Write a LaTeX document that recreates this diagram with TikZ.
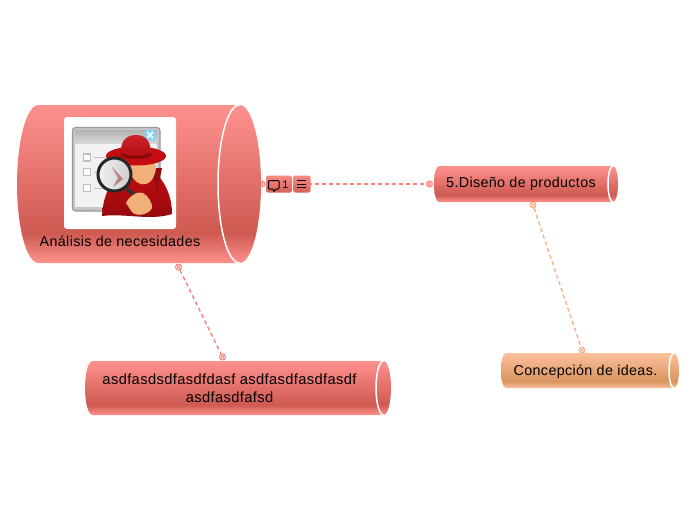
\documentclass[tikz,border=0pt]{standalone}
\usepackage{fontspec}
\setmainfont[LetterSpace=2.5]{Liberation Sans}
\usepackage{tikz}

\definecolor{redtop}{HTML}{FF918D}
\definecolor{reddark}{HTML}{CE5A51}
\definecolor{redline}{HTML}{FF7F7F}
\definecolor{orangetop}{HTML}{FBC09C}
\definecolor{orangedark}{HTML}{D9945F}
\definecolor{orangeline}{HTML}{F8B08A}
\definecolor{hatred}{HTML}{C40C12}
\definecolor{skintan}{HTML}{F0B078}

\pgfdeclareverticalshading{redtube}{100bp}{color(0bp)=(redtop); color(25bp)=(redtop); color(34.5bp)=(reddark); color(75bp)=(redtop); color(100bp)=(redtop)}
\pgfdeclareverticalshading{orangetube}{100bp}{color(0bp)=(orangetop); color(25bp)=(orangetop); color(34.5bp)=(orangedark); color(75bp)=(orangetop); color(100bp)=(orangetop)}

\tikzset{
    tubetext/.style={align=center, inner sep=0pt, text=black, font=\fontsize{14.3}{18}\selectfont},
    badge/.style={draw=none, top color=redtop!85!reddark, bottom color=reddark!85!redtop, rounded corners=2pt, minimum height=17pt, inner sep=0pt},
    endmark/.style={circle, draw=#1, fill=white, line width=1pt, minimum size=6pt, inner sep=0pt,
        path picture={\draw[#1, line width=0.8pt] (path picture bounding box.south west) -- (path picture bounding box.north east)
            (path picture bounding box.north west) -- (path picture bounding box.south east);}},
    link/.style={dash pattern=on 4pt off 3pt, line width=1.4pt, draw=#1}
}

\begin{document}
\begin{tikzpicture}[x=1pt, y=-1pt]
    \useasboundingbox (0,0) rectangle (696,520);

    % Connectors
    \node[endmark=redline] (rootright) at (262,184) {};
    \node[endmark=redline] (designleft) at (429.5,184) {};
    \node[endmark=redline] (rootbottom) at (178.5,267) {};
    \node[endmark=redline] (notetop) at (222.5,357) {};
    \node[endmark=orangeline] (designbottom) at (533,205) {};
    \node[endmark=orangeline] (ideastop) at (582,350) {};
    \draw[link=redline] (rootright) -- (designleft);
    \draw[link=redline] (rootbottom) -- (notetop);
    \draw[link=orangeline] (designbottom) -- (ideastop);

    % Tubes
    \foreach \xa/\ya/\xb/\yb/\rx/\tube in {17/105/261/263/21.5/redtube, 434/166/618/202/5/redtube, 85/361/391/415/7.5/redtube, 501/353/679/388/5/orangetube} {
        \pgfmathsetmacro{\ry}{(\yb-\ya)/2}
        \shade[shading=\tube] (\xa+\rx,\ya) -- (\xb-\rx,\ya) arc[start angle=-90, end angle=90, x radius=\rx, y radius=\ry]
            -- (\xa+\rx,\yb) arc[start angle=90, end angle=270, x radius=\rx, y radius=\ry] -- cycle;
        \draw[white, line width=1.5pt] (\xb-\rx,\ya) arc[start angle=-90, end angle=-270, x radius=\rx, y radius=\ry];
    }

    % Labels
    \node[tubetext] (root) at (120,241) {Análisis de necesidades};
    \node[tubetext] (design) at (521,184) {5.Diseño de productos};
    \node[tubetext, font=\fontsize{14.7}{18}\selectfont] (note) at (229.5,388) {asdfasdsdfasdfdasf asdfasdfasdfasdf\\asdfasdfafsd};
    \node[tubetext] (ideas) at (585.5,371.5) {Concepción de ideas.};

    % Badges
    \node[badge, minimum width=26pt] (comment) at (279,184) {};
    \node[badge, minimum width=17pt] (menu) at (302,184) {};
    \node[font=\fontsize{11}{11}\selectfont, inner sep=0pt] (count) at (285.5,184.5) {1};
    \draw[black, line width=1pt, rounded corners=1pt] (268.5,180.5) -- (279,180.5) -- (279,189) -- (276,189) -- (273.5,192) -- (273.5,189) -- (268.5,189) -- cycle;
    \foreach \y in {180.5,184,187.5} {
        \draw[black, line width=1pt] (297,\y) -- (306,\y);
    }

    % Picture card
    \fill[white, rounded corners=3pt] (64,117) rectangle (176,229);
    \draw[gray!80, fill=gray!45, line width=1.2pt, rounded corners=3pt] (72.5,127.5) rectangle (160,211);
    \shade[top color=gray!60, bottom color=gray!30] (75,130) rectangle (157,144);
    \fill[gray!10] (75,144) rectangle (157,207);
    \foreach \y in {157.5,172,188} {
        \draw[gray!50, line width=1.2pt, fill=white] (83.5,\y-3.5) rectangle (90.5,\y+3.5);
        \draw[gray!50, line width=0.8pt] (94,\y) -- (106,\y);
    }
    \fill[blue!35!cyan!50, rounded corners=1.5pt] (144.5,130) rectangle (155.5,140);
    \draw[white, line width=1.5pt] (147,132) -- (153,138) (153,132) -- (147,138);

    % Figure
    \shade[top color=hatred, bottom color=hatred!75!black] (102,216) .. controls (103,195) and (112,172) .. (135,168) -- (150,168) .. controls (166,180) and (172,198) .. (172,214) .. controls (150,221) and (125,213) .. (102,216) -- cycle;
    \fill[hatred!75!black] (152,168) -- (162,168) -- (157,192) -- cycle;
    \fill[skintan] (128,160) .. controls (128,182) and (145,192) .. (153,178) .. controls (158,168) and (156,162) .. (152,160) -- cycle;
    \fill[hatred] (136,156) ellipse [x radius=30, y radius=9.5];
    \shade[top color=hatred!90!white, bottom color=hatred!90!black] (121,155) .. controls (120,144) and (124,135) .. (136,135) .. controls (148,135) and (151,144) .. (151,155) .. controls (142,159) and (130,159) .. (121,155) -- cycle;
    \fill[hatred!70!black] (121,153) .. controls (130,157) and (142,157) .. (151,153) -- (151,156) .. controls (142,160) and (130,160) .. (121,156) -- cycle;

    % Magnifier
    \draw[black!80, line width=3.5pt, line cap=round] (127,189) -- (136,196);
    \fill[skintan] (126,203) .. controls (130,195) and (138,191) .. (143,193) .. controls (148,195) and (153,204) .. (152,208) .. controls (149,215) and (136,217) .. (132,212) -- cycle;
    \shade[left color=gray!10, right color=gray!40, draw=black!85, line width=3pt] (114.5,174.5) circle (16.5);
    \fill[hatred!50!gray!70] (112,167) -- (123,179) -- (113,187) -- (118,178) -- cycle;
\end{tikzpicture}
\end{document}
